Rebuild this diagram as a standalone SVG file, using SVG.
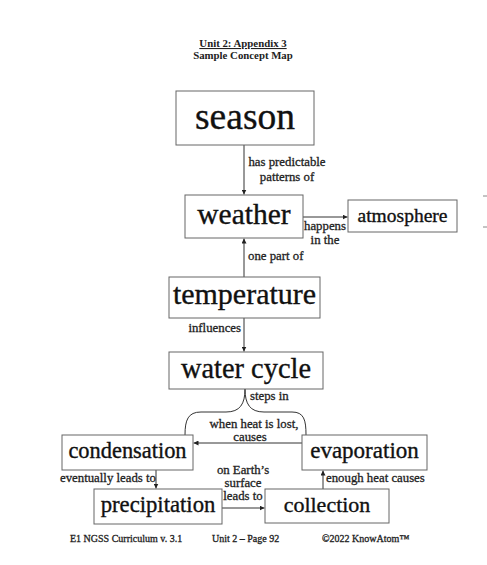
<svg xmlns="http://www.w3.org/2000/svg" width="487" height="565" viewBox="0 0 487 565">
<defs>
<style>
.box{fill:#fff;stroke:#666;stroke-width:1}
.node{font-family:"Liberation Serif","Times New Roman",serif;fill:#111;stroke:#111;stroke-width:0.35;text-anchor:middle}
.lbl{font-family:"Liberation Serif","Times New Roman",serif;font-size:12.8px;fill:#222;stroke:#222;stroke-width:0.3}
.edge{fill:none;stroke:#333;stroke-width:1}
.hdr{font-family:"Liberation Serif","Times New Roman",serif;font-weight:bold;font-size:10.8px;fill:#222;text-anchor:middle}
.ftr{font-family:"Liberation Serif","Times New Roman",serif;font-size:10px;fill:#222;stroke:#222;stroke-width:0.3}
</style>
<marker id="ah" viewBox="0 0 6 6" refX="6" refY="3" markerWidth="5" markerHeight="5" orient="auto" markerUnits="userSpaceOnUse">
<path d="M0,0 L6,3 L0,6 z" fill="#222"/>
</marker>
</defs>
<rect width="487" height="565" fill="#fff"/>

<g id="header">
<text class="hdr" x="243" y="47" text-decoration="underline">Unit 2: Appendix 3</text>
<text class="hdr" x="243" y="59">Sample Concept Map</text>
</g>

<g id="connectors">
<line class="edge" x1="244" y1="145" x2="244" y2="194.5" marker-end="url(#ah)"/>
<line class="edge" x1="303" y1="217" x2="347.5" y2="217" marker-end="url(#ah)"/>
<line class="edge" x1="244" y1="277" x2="244" y2="238.5" marker-end="url(#ah)"/>
<line class="edge" x1="244" y1="318" x2="244" y2="351.5" marker-end="url(#ah)"/>
<path class="edge" d="M185,435 C185,420 188,412 201,412 L226,412 C240,412 245,404 245,389 C245,404 250,412 264,412 L292,412 C304,412 306,420 306,435"/>
<line class="edge" x1="302" y1="443" x2="193.5" y2="443" marker-end="url(#ah)"/>
<line class="edge" x1="156" y1="470" x2="156" y2="488.5" marker-end="url(#ah)"/>
<line class="edge" x1="222" y1="508" x2="264.5" y2="508" marker-end="url(#ah)"/>
<line class="edge" x1="323" y1="489" x2="323" y2="470.5" marker-end="url(#ah)"/>
<text class="lbl" x="287" y="166" text-anchor="middle">has predictable</text>
<text class="lbl" x="287" y="181" text-anchor="middle">patterns of</text>
<text class="lbl" x="325" y="230" text-anchor="middle">happens</text>
<text class="lbl" x="325" y="244" text-anchor="middle">in the</text>
<text class="lbl" x="248" y="260">one part of</text>
<text class="lbl" x="241" y="332" text-anchor="end">influences</text>
<text class="lbl" x="250" y="400">steps in</text>
<text class="lbl" x="254" y="428" text-anchor="middle">when heat is lost,</text>
<text class="lbl" x="250" y="441" text-anchor="middle">causes</text>
<text class="lbl" x="60" y="482">eventually leads to</text>
<text class="lbl" x="243" y="474" text-anchor="middle">on Earth’s</text>
<text class="lbl" x="243" y="487" text-anchor="middle">surface</text>
<text class="lbl" x="243" y="500" text-anchor="middle">leads to</text>
<text class="lbl" x="326" y="482">enough heat causes</text>
</g>

<g id="season">
<rect class="box" x="176" y="91" width="138" height="54"/>
<text class="node" x="245" y="129" font-size="37.5">season</text>
</g>
<g id="weather">
<rect class="box" x="185" y="195" width="118" height="43"/>
<text class="node" x="244" y="224" font-size="29.5">weather</text>
</g>
<g id="atmosphere">
<rect class="box" x="348" y="200" width="109" height="32"/>
<text class="node" x="402.5" y="221.5" font-size="19.5">atmosphere</text>
</g>
<g id="temperature">
<rect class="box" x="169" y="277" width="151" height="41"/>
<text class="node" x="244.5" y="304" font-size="30">temperature</text>
</g>
<g id="water-cycle">
<rect class="box" x="169" y="352" width="154" height="37"/>
<text class="node" x="246" y="378" font-size="28.4">water cycle</text>
</g>
<g id="condensation">
<rect class="box" x="62" y="435" width="131" height="35"/>
<text class="node" x="127.5" y="458" font-size="22.4">condensation</text>
</g>
<g id="evaporation">
<rect class="box" x="302" y="435" width="125" height="35"/>
<text class="node" x="364.5" y="458" font-size="23">evaporation</text>
</g>
<g id="precipitation">
<rect class="box" x="94" y="489" width="128" height="35"/>
<text class="node" x="158" y="512" font-size="22.7">precipitation</text>
</g>
<g id="collection">
<rect class="box" x="265" y="489" width="124" height="34"/>
<text class="node" x="327" y="512" font-size="22">collection</text>
</g>

<g id="footer">
<text class="ftr" x="70" y="542">E1 NGSS Curriculum v. 3.1</text>
<text class="ftr" x="212" y="542">Unit 2 – Page 92</text>
<text class="ftr" x="322" y="542">©2022 KnowAtom™</text>
</g>

<g id="edge-marks" stroke="#888" stroke-width="1">
<line x1="483" y1="196" x2="487" y2="196"/>
<line x1="483" y1="227" x2="487" y2="227"/>
</g>
</svg>
